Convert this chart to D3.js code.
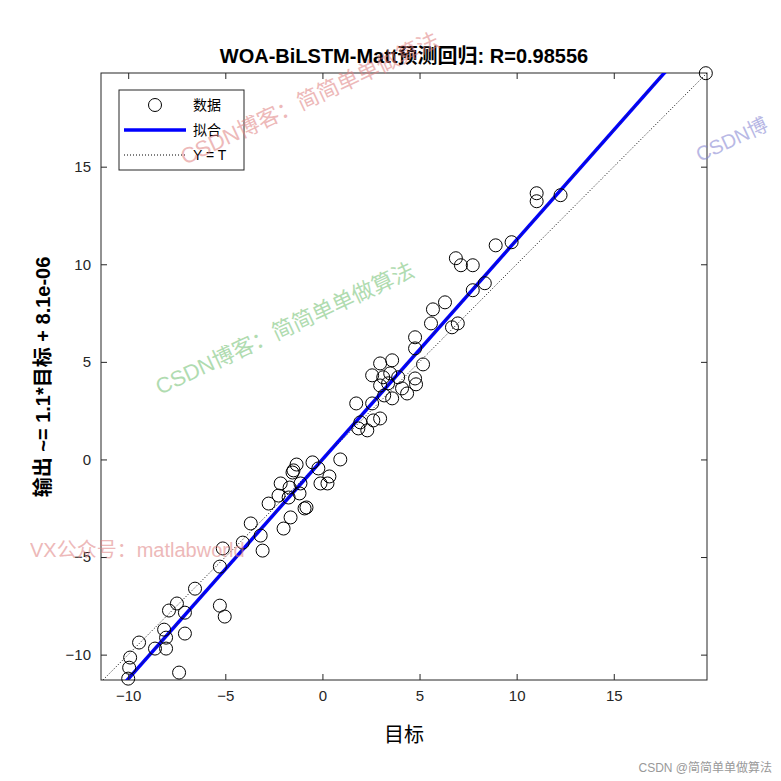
<!DOCTYPE html>
<html><head><meta charset="utf-8">
<script src="https://cdn.jsdelivr.net/npm/d3@7"></script>
<style>body{margin:0;background:#fff}text{font-family:Arial,"Liberation Sans","Noto Sans CJK SC",sans-serif}</style>
</head><body><svg id="c" width="781" height="781"></svg>
<script>
const targets = [-10.0,-9.95,-9.9,-9.44,-8.62,-8.05,-8.15,-8.05,-7.38,-7.08,-7.9,-7.49,-7.08,-5.28,-5.03,-6.56,-5.28,-5.13,-4.1,-3.18,-3.08,-3.69,-2.77,-2.0,-1.64,-2.15,-1.69,-1.13,-1.18,-0.82,-0.92,-1.54,-1.33,-1.49,-0.51,-0.21,-0.1,0.26,0.36,0.92,-1.74,-2.26,8.92,9.74,6.87,7.13,7.74,8.36,7.74,6.31,5.69,5.59,6.67,6.97,4.77,4.77,5.18,2.97,3.59,2.56,3.13,3.49,3.9,4.77,4.82,2.97,3.38,4.1,4.36,3.59,2.56,1.74,2.97,2.62,1.95,1.85,2.31,3.18,11.03,11.03,12.26,19.74];
const outputs = [-11.23,-10.67,-10.15,-9.38,-9.69,-9.69,-8.72,-9.13,-10.92,-8.92,-7.74,-7.38,-7.85,-7.49,-8.05,-6.62,-5.49,-4.56,-4.26,-3.9,-4.67,-3.28,-2.26,-3.54,-2.97,-1.23,-1.44,-1.23,-1.74,-2.46,-2.51,-0.67,-0.26,-0.56,-0.15,-0.46,-1.23,-1.23,-0.87,0,-1.95,-1.85,10.97,11.13,10.31,9.95,9.95,9.03,8.67,8.05,7.69,6.97,6.77,6.97,6.26,5.69,4.87,4.92,5.08,4.31,4.21,4.41,4.21,4.15,3.85,3.79,3.9,3.64,3.38,3.13,2.87,2.87,2.1,2.0,1.9,1.59,1.49,3.28,13.23,13.64,13.54,19.79];
const xTicks = [-10,-5,0,5,10,15];
const yTicks = [-10,-5,0,5,10,15];
const fitSlope = 1.125, fitIntercept = 0;
const lo = -11.4, hi = 19.8;

const svg = d3.select("#c");
const L = 101, R = 707, T = 73, B = 680;
const x = d3.scaleLinear().domain([lo, hi]).range([L, R]);
const y = d3.scaleLinear().domain([-11.3, hi]).range([B, T]);

svg.append("rect").attr("x", L).attr("y", T).attr("width", R - L).attr("height", B - T)
  .attr("fill", "#fff").attr("stroke", "#262626");

svg.append("clipPath").attr("id", "cp").append("rect")
  .attr("x", L).attr("y", T).attr("width", R - L).attr("height", B - T);
const g = svg.append("g").attr("clip-path", "url(#cp)");

// y = t
g.append("line").attr("x1", x(lo)).attr("y1", y(lo)).attr("x2", x(hi)).attr("y2", y(hi))
  .attr("stroke", "#000").attr("stroke-width", 1).attr("stroke-dasharray", "1,2");
// fit line
g.append("line").attr("x1", x(lo)).attr("y1", y(fitSlope * lo + fitIntercept))
  .attr("x2", x(hi)).attr("y2", y(fitSlope * hi + fitIntercept))
  .attr("stroke", "#0000ff").attr("stroke-width", 3.5);
g.append("line").attr("x1", x(lo)).attr("y1", y(fitSlope * lo + fitIntercept))
  .attr("x2", x(hi)).attr("y2", y(fitSlope * hi + fitIntercept))
  .attr("stroke", "#1a1a80").attr("stroke-width", 1).attr("stroke-dasharray", "6,4");

svg.selectAll("circle.pt").data(targets).join("circle").attr("class", "pt")
  .attr("cx", d => x(d)).attr("cy", (d, i) => y(outputs[i])).attr("r", 6.5)
  .attr("fill", "none").attr("stroke", "#000").attr("stroke-width", 1);

const xa = svg.append("g").attr("transform", `translate(0,${B})`)
  .call(d3.axisBottom(x).tickValues(xTicks).tickSize(-6).tickPadding(10));
const ya = svg.append("g").attr("transform", `translate(${L},0)`)
  .call(d3.axisLeft(y).tickValues(yTicks).tickSize(-6).tickPadding(10));
[xa, ya].forEach(a => {
  a.select(".domain").remove();
  a.selectAll("line").attr("stroke", "#262626");
  a.selectAll("text").attr("font-size", 15).attr("fill", "#262626");
});
svg.append("g").attr("transform", `translate(0,${T})`)
  .call(d3.axisTop(x).tickValues(xTicks).tickSize(-6).tickFormat("")).call(a => a.select(".domain").remove())
  .selectAll("line").attr("stroke", "#262626");
svg.append("g").attr("transform", `translate(${R},0)`)
  .call(d3.axisRight(y).tickValues(yTicks).tickSize(-6).tickFormat("")).call(a => a.select(".domain").remove())
  .selectAll("line").attr("stroke", "#262626");

svg.append("text").attr("x", 404).attr("y", 63).attr("text-anchor", "middle")
  .attr("font-size", 20).attr("font-weight", "bold").text("WOA-BiLSTM-Matt预测回归: R=0.98556");
svg.append("text").attr("x", 404).attr("y", 742).attr("text-anchor", "middle")
  .attr("font-size", 20).text("目标");
svg.append("text").attr("transform", "translate(50,377) rotate(-90)").attr("text-anchor", "middle")
  .attr("font-size", 20).attr("font-weight", "bold").text("输出 ~= 1.1*目标 + 8.1e-06");

// legend
const lg = svg.append("g");
lg.append("rect").attr("x", 119).attr("y", 90).attr("width", 125).attr("height", 80)
  .attr("fill", "#fff").attr("stroke", "#262626");
lg.append("circle").attr("cx", 155).attr("cy", 105).attr("r", 6.5).attr("fill", "none").attr("stroke", "#000");
lg.append("line").attr("x1", 124).attr("x2", 186).attr("y1", 130).attr("y2", 130).attr("stroke", "#0000ff").attr("stroke-width", 3.5);
lg.append("line").attr("x1", 124).attr("x2", 186).attr("y1", 155).attr("y2", 155).attr("stroke", "#000").attr("stroke-dasharray", "1,2");
[["数据", 110], ["拟合", 135], ["Y = T", 160]].forEach(([t, yy]) =>
  lg.append("text").attr("x", 193).attr("y", yy).attr("font-size", 14).text(t));

// watermarks
const wm = (t, px, py, ang, col, fs) => svg.append("text")
  .attr("transform", `translate(${px},${py}) rotate(${ang})`).attr("font-size", fs)
  .attr("fill", col).attr("opacity", 0.55).text(t);
wm("CSDN博客：简简单单做算法", 185, 165, -25, "#e08080", 22);
wm("CSDN博客：简简单单做算法", 160, 395, -25, "#70c070", 22);
wm("CSDN博", 700, 162, -25, "#8080d0", 20);
wm("VX公众号：matlabworld", 30, 557, 0, "#e08080", 20);
svg.append("text").attr("x", 772).attr("y", 772).attr("text-anchor", "end")
  .attr("font-size", 12).attr("fill", "#999").text("CSDN @简简单单做算法");
</script></body></html>
